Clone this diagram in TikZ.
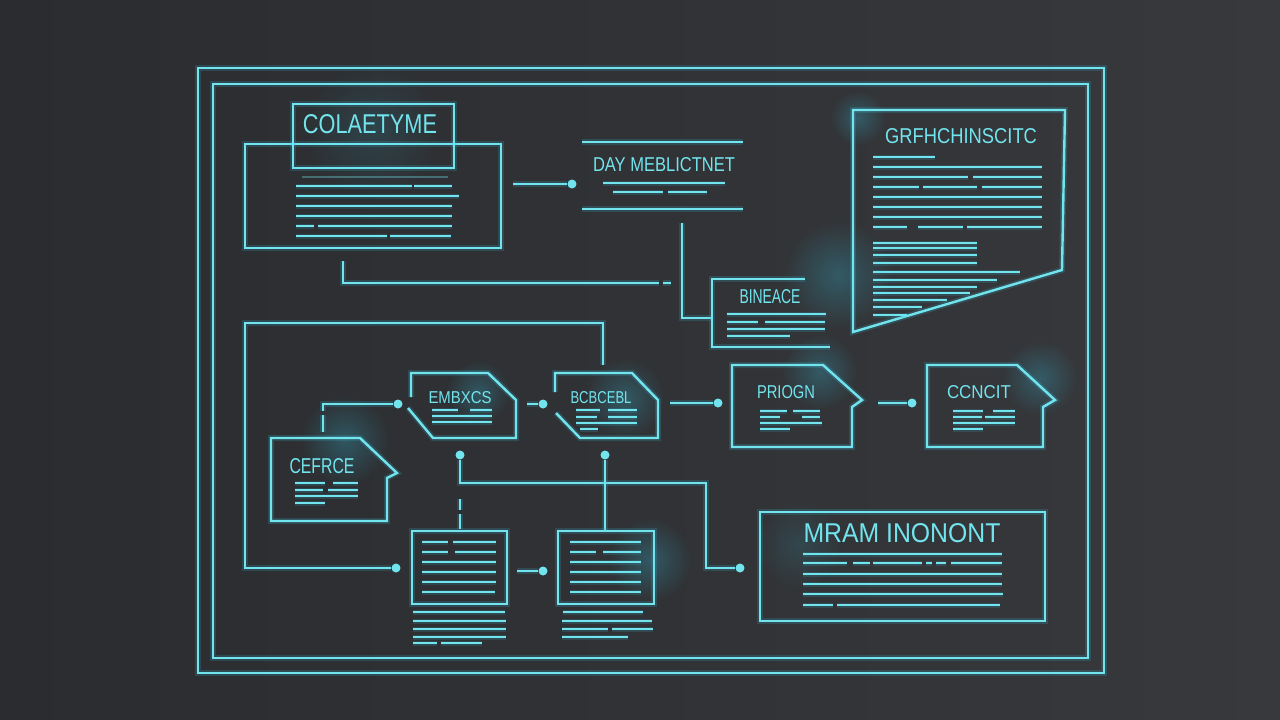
\documentclass[tikz,border=0pt]{standalone}
\usepackage{fontspec}
\usepackage{graphicx}
\newfontfamily\lblf{Liberation Sans}
\usetikzlibrary{fadings}
\definecolor{bgc}{HTML}{303235}
\definecolor{bgl}{HTML}{2A2C2F}
\definecolor{bgr}{HTML}{37393C}
\definecolor{cy}{HTML}{72E4EE}
\definecolor{glowc}{HTML}{36B4D2}
\tikzfading[name=glowfade, inner color=transparent!0, outer color=transparent!100]
\tikzset{
 ln/.style={draw=cy, line width=2.4pt, preaction={draw=glowc, line width=6pt, opacity=0.2}},
 bar/.style={draw=cy, line width=2.6pt, preaction={draw=glowc, line width=5pt, opacity=0.18}},
 dotn/.style={circle, fill=cy, inner sep=0pt, minimum size=9pt},
 lbl/.style={text=cy, inner sep=0pt},
 halo/.style={fill=glowc, path fading=glowfade, fill opacity=0.3},
}
\newcommand\txl[3]{\draw[bar] (#2,#1) -- (#3,#1);}
\newcommand\lab[5]{\node[lbl] (#1) at (#2) {\resizebox{#3pt}{#4pt}{\lblf #5}};}
\begin{document}
\begin{tikzpicture}[x=1pt,y=-1pt]
\useasboundingbox (0,0) rectangle (1280,720);
\shade[left color=bgl, right color=bgr, middle color=bgc] (0,0) rectangle (1280,720);
% halos
\fill[halo] (345,440) circle (45pt);
\fill[halo] (838,275) circle (55pt);
\fill[halo] (858,118) circle (28pt);
\fill[halo] (820,372) circle (38pt);
\fill[halo] (1040,378) circle (38pt);
\fill[halo] (625,398) circle (40pt);
\fill[halo] (478,392) circle (32pt);
\fill[halo] (650,560) circle (42pt);
\fill[halo, fill opacity=0.15] (372,130) circle (70pt);
\fill[halo, fill opacity=0.15] (800,545) circle (45pt);
% frame
\draw[ln] (198,68) rectangle (1104,673);
\draw[ln] (213,84) rectangle (1088,658);
% collecting
\draw[ln] (245,144) rectangle (501,248);
\draw[ln] (293,104) rectangle (454,168);
\lab{tcol}{370,124.5}{134}{19}{COLAETYME}
\draw[draw=cy, opacity=0.35, line width=2pt] (302,177) -- (448,177);
\txl{186}{296}{412}\txl{186}{414}{452}
\txl{196}{296}{459}
\txl{206}{296}{452}
\txl{216}{296}{452}
\txl{226}{296}{314}\txl{226}{318}{452}
\txl{236}{296}{387}\txl{236}{390}{451}
\coordinate (colR) at (513,184);
\node[dotn] (d1) at (572,184) {};
\draw[ln] (colR) -- (d1);
\coordinate (l1a) at (343,261);
\coordinate (l1b) at (659,283);
\coordinate (l1c) at (663,283);
\coordinate (l1d) at (671,283);
\draw[ln] (l1a) |- (l1b);
\draw[ln] (l1c) -- (l1d);
% day group
\coordinate (dayTL) at (582,142);\coordinate (dayTR) at (743,142);
\coordinate (dayBL) at (582,209);\coordinate (dayBR) at (743,209);
\draw[ln] (dayTL) -- (dayTR);
\draw[ln] (dayBL) -- (dayBR);
\lab{tday}{664,165}{142}{14}{DAY MEBLICTNET}
\txl{183}{603}{725}
\txl{192}{613}{663}\txl{192}{668}{707}
\coordinate (dayb) at (682,223);
\coordinate (binL) at (712,318);
\draw[ln] (dayb) |- (binL);
% bineace
\draw[ln] (805,279) -- (712,279) -- (712,347) -- (830,347);
\lab{tbin}{770,297}{61}{14}{BINEACE}
\txl{314}{727}{826}
\txl{322}{727}{758}\txl{322}{765}{825}
\txl{329}{727}{825}
\txl{336}{727}{790}
% document
\draw[ln, line join=miter] (853,110) -- (1065,110) -- (1062,270) -- (853,332) -- cycle;
\lab{tdoc}{961,136}{152}{15}{GRFHCHINSCITC}
\txl{157}{873}{935}
\txl{167}{873}{1042}
\txl{177}{873}{968}\txl{177}{973}{1042}
\txl{187}{873}{919}\txl{187}{923}{977}\txl{187}{982}{1042}
\txl{197}{873}{1042}
\txl{207}{873}{1042}
\txl{217}{873}{1042}
\txl{227}{873}{907}\txl{227}{918}{963}\txl{227}{967}{1042}
\txl{243}{873}{977}
\txl{248}{873}{977}
\txl{255}{873}{977}
\txl{263}{873}{977}
\txl{272}{873}{1020}
\txl{280}{873}{997}
\txl{287}{873}{977}
\txl{293}{873}{970}
\txl{300}{873}{947}
\txl{307}{873}{922}
\txl{315}{873}{907}
% big loop
\coordinate (lpA) at (603,365);
\coordinate (lpB) at (603,323);
\coordinate (lpC) at (245,323);
\coordinate (lpD) at (245,568);
\node[dotn] (dL) at (396,568) {};
\draw[ln] (lpA) -- (lpB) -- (lpC) -- (lpD) -- (dL);
% embxcs
\draw[ln] (411,397) -- (411,373) -- (488,373) -- (516,400) -- (516,438) -- (433,438) -- (408,408);
\lab{temb}{460,398}{63}{12}{EMBXCS}
\txl{410}{432}{458}\txl{410}{470}{492}
\txl{416}{432}{492}
\txl{422}{432}{492}
\node[dotn] (dE) at (398,404) {};
\coordinate (ceT) at (323,432);
\coordinate (ceM) at (323,415);
\coordinate (ceN) at (323,411);
\draw[ln] (ceT) -- (ceM);
\draw[ln] (ceN) |- (dE);
% bcbcebl
\draw[ln] (555,392) -- (555,373) -- (632,373) -- (658,400) -- (658,438) -- (580,438) -- (556,413);
\lab{tbcb}{601,398}{61}{12}{BCBCEBL}
\txl{410}{576}{600}\txl{410}{608}{637}
\txl{417}{576}{597}\txl{417}{608}{637}
\txl{423}{576}{637}
\txl{429}{580}{598}
\node[dotn] (dB1) at (543,404) {};
\coordinate (emR) at (527,404);
\draw[ln] (emR) -- (dB1);
% priogn
\draw[ln] (732,365) -- (823,365) -- (862,400) -- (852,407) -- (852,447) -- (732,447) -- cycle;
\lab{tpri}{786,392}{58}{13}{PRIOGN}
\txl{411}{760}{787}\txl{411}{793}{820}
\txl{417}{760}{780}\txl{417}{802}{820}
\txl{423}{760}{822}
\txl{429}{760}{790}
\node[dotn] (dP) at (718,403) {};
\coordinate (bcR) at (670,403);
\draw[ln] (bcR) -- (dP);
% ccncit
\draw[ln] (927,365) -- (1017,365) -- (1055,400) -- (1043,407) -- (1043,447) -- (927,447) -- cycle;
\lab{tccn}{979,392}{64}{13}{CCNCIT}
\txl{411}{953}{983}\txl{411}{993}{1015}
\txl{417}{953}{982}\txl{417}{985}{1015}
\txl{423}{953}{1015}
\txl{429}{953}{983}
\node[dotn] (dC) at (912,403) {};
\coordinate (prR) at (878,403);
\draw[ln] (prR) -- (dC);
% cefrce
\draw[ln] (271,438) -- (360,438) -- (397,473) -- (387,478) -- (387,521) -- (271,521) -- cycle;
\lab{tcef}{322,466}{65}{15}{CEFRCE}
\txl{483}{295}{325}\txl{483}{333}{358}
\txl{490}{295}{323}\txl{490}{328}{358}
\txl{496}{295}{358}
\txl{503}{295}{325}
% lower connectors
\node[dotn] (dA) at (460,455) {};
\node[dotn] (dBB) at (605,455) {};
\node[dotn] (dM) at (740,568) {};
\draw[ln] (dA) -- (460,483) -- (706,483) -- (706,568) -- (dM);
\coordinate (da1) at (460,499);\coordinate (da2) at (460,510);
\coordinate (da3) at (460,514);\coordinate (da4) at (460,529);
\draw[ln] (da1) -- (da2);
\draw[ln] (da3) -- (da4);
\coordinate (rdT) at (605,531);
\draw[ln] (dBB) -- (rdT);
% lower docs
\draw[ln] (412,531) rectangle (507,604);
\draw[ln] (558,531) rectangle (654,604);
\node[dotn] (dD) at (543,571) {};
\coordinate (ldR) at (517,571);
\draw[ln] (ldR) -- (dD);
\txl{542}{422}{448}\txl{542}{453}{496}
\txl{552}{422}{448}\txl{552}{455}{496}
\txl{562}{422}{496}
\txl{572}{422}{496}
\txl{582}{422}{496}
\txl{592}{422}{495}
\txl{612}{413}{505}
\txl{621}{413}{506}
\txl{629}{413}{506}
\txl{637}{413}{506}
\txl{643}{413}{437}\txl{643}{441}{482}
\txl{542}{570}{641}
\txl{552}{570}{596}\txl{552}{603}{641}
\txl{562}{570}{641}
\txl{572}{570}{641}
\txl{582}{570}{641}
\txl{592}{570}{641}
\txl{612}{563}{643}
\txl{621}{562}{652}
\txl{629}{562}{608}\txl{629}{612}{653}
\txl{637}{562}{628}
% mram box
\draw[ln] (760,512) rectangle (1045,621);
\lab{tmra}{902,533}{197}{19}{MRAM INONONT}
\txl{554}{803}{1002}
\txl{563}{803}{847}\txl{563}{853}{870}\txl{563}{873}{922}\txl{563}{926}{932}\txl{563}{936}{946}\txl{563}{951}{1002}
\txl{574}{803}{1002}
\txl{584}{803}{1002}
\txl{594}{803}{1003}
\txl{605}{803}{833}\txl{605}{837}{1000}
\end{tikzpicture}
\end{document}
